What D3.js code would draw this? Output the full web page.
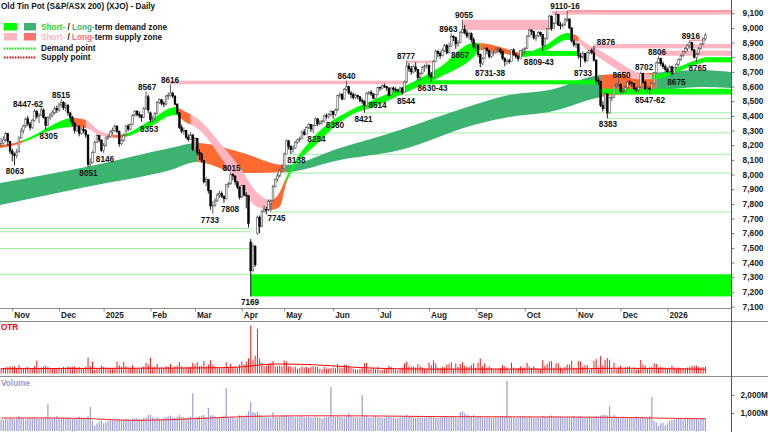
<!DOCTYPE html>
<html><head><meta charset="utf-8">
<script src="https://cdn.jsdelivr.net/npm/d3@7"></script>
<style>
body{margin:0;background:#fff}
svg{display:block;font-family:"Liberation Sans",Arial,sans-serif}
</style>
</head><body>
<svg id="c" width="768" height="432"></svg>
<script>
// ---- Daily candles, Oct 2024 - Jan 2026 ----
const opens = [
8200,8211,8236,8279,8226,8160,8140,8130,8155,8250,
8300,8330,8380,8345,8320,8370,8430,8395,8405,8440,
8390,8335,8390,8405,8420,8450,8440,8475,8490,8455,
8470,8420,8390,8350,8300,8330,8280,8310,8300,8270,
8070,8080,8150,8220,8265,8235,8165,8200,8250,8260,
8290,8300,8330,8295,8210,8230,8270,8330,8310,8340,
8405,8430,8410,8405,8390,8450,8530,8420,8375,8380,
8415,8490,8510,8485,8480,8535,8540,8555,8535,8480,
8420,8320,8295,8300,8255,8240,8270,8170,8245,8150,
8140,8095,7950,7965,7890,7785,7790,7820,7860,7870,
7850,7835,7930,7937,7999,7990,7950,7915,7845,7925,
7860,7855,7540,7343,7510,7600,7709,7646,7748,7762,
7758,7800,7820,7920,7968,7990,8030,8040,8140,8230,
8190,8170,8180,8220,8235,8245,8290,8275,8320,8340,
8310,8335,8380,8345,8360,8365,8400,8395,8410,8430,
8410,8440,8540,8545,8515,8580,8600,8555,8545,8525,
8540,8530,8505,8500,8470,8555,8560,8550,8520,8545,
8595,8590,8605,8600,8590,8540,8590,8580,8575,8570,
8590,8560,8630,8740,8720,8700,8735,8715,8660,8690,
8730,8740,8745,8680,8665,8770,8840,8825,8810,8845,
8880,8830,8875,8940,8935,8890,8900,8970,8990,8965,
8945,8960,8920,8870,8880,8820,8760,8790,8860,8845,
8805,8830,8835,8850,8855,8840,8790,8770,8775,8770,
8850,8820,8805,8790,8845,8850,8860,8945,8985,8975,
8930,8945,8970,8955,8880,8925,8995,9080,8995,9030,
9090,9020,9015,9020,9055,9060,9000,8910,8885,8890,
8810,8800,8825,8775,8830,8845,8830,8780,8640,8635,
8470,8450,8550,8420,8525,8525,8605,8615,8615,8565,
8570,8595,8630,8625,8620,8585,8580,8595,8690,8630,
8585,8590,8580,8620,8695,8760,8790,8755,8735,8715,
8700,8735,8690,8730,8750,8785,8810,8840,8860,8880,
8900,8850,8800,8820,8860,8890,8925];
const highs = [
8250,8262,8290,8283,8230,8175,8150,8175,8260,8320,
8340,8390,8400,8360,8380,8447,8440,8420,8462,8450,
8395,8400,8420,8440,8465,8470,8490,8515,8500,8490,
8480,8425,8400,8360,8345,8335,8320,8330,8310,8275,
8110,8160,8230,8275,8270,8240,8215,8260,8275,8300,
8320,8340,8335,8300,8245,8280,8340,8345,8350,8410,
8440,8440,8430,8410,8460,8567,8545,8430,8400,8425,
8500,8520,8515,8500,8545,8560,8616,8565,8540,8485,
8425,8340,8320,8305,8275,8290,8275,8255,8250,8170,
8150,8100,7985,7970,7895,7820,7840,7875,7890,7885,
7860,7935,7950,8015,8010,7995,7955,7920,7930,7930,
7880,7860,7560,7530,7520,7720,7720,7760,7790,7780,
7830,7830,7930,7975,8010,8040,8070,8150,8240,8235,
8200,8200,8230,8245,8260,8300,8310,8330,8350,8345,
8345,8390,8385,8370,8375,8410,8415,8420,8440,8435,
8450,8545,8560,8555,8590,8640,8605,8570,8560,8550,
8545,8535,8520,8505,8560,8570,8575,8555,8550,8600,
8600,8615,8620,8605,8595,8595,8600,8595,8585,8600,
8595,8640,8777,8760,8740,8750,8765,8720,8700,8740,
8750,8760,8750,8700,8780,8850,8850,8840,8860,8890,
8890,8900,8963,8950,8940,8920,8980,9055,9020,8985,
8975,8970,8935,8900,8890,8825,8800,8870,8870,8850,
8840,8845,8865,8870,8860,8845,8800,8790,8790,8855,
8860,8830,8815,8850,8860,8870,8950,8995,8990,8980,
8955,8980,8975,8960,8935,9000,9090,9085,9040,9110,
9095,9040,9035,9070,9116,9065,9005,8920,8905,8895,
8830,8840,8830,8840,8850,8860,8876,8785,8660,8640,
8500,8560,8555,8530,8540,8610,8625,8650,8620,8590,
8610,8640,8645,8635,8625,8595,8600,8702,8695,8640,
8600,8600,8630,8700,8770,8806,8795,8770,8750,8730,
8745,8740,8735,8760,8790,8820,8845,8870,8890,8916,
8905,8855,8830,8870,8900,8935,8965];
const lows = [
8190,8205,8225,8200,8140,8090,8063,8110,8150,8245,
8280,8320,8330,8300,8310,8360,8380,8350,8400,8380,
8305,8330,8370,8390,8410,8420,8430,8460,8440,8430,
8400,8360,8330,8280,8290,8260,8270,8280,8250,8051,
8055,8075,8145,8215,8220,8155,8146,8190,8235,8250,
8270,8290,8280,8190,8200,8225,8265,8295,8300,8335,
8395,8395,8385,8360,8385,8440,8420,8353,8360,8370,
8410,8480,8470,8460,8470,8510,8530,8520,8470,8410,
8310,8280,8270,8240,8225,8235,8160,8165,8130,8100,
8080,7940,7920,7870,7760,7733,7780,7815,7840,7840,
7808,7830,7910,7930,7960,7930,7900,7830,7840,7850,
7770,7640,7169,7340,7370,7590,7600,7640,7740,7730,
7750,7745,7815,7910,7950,7980,8010,8035,8135,8170,
8138,8150,8175,8210,8220,8240,8265,8270,8310,8290,
8284,8330,8330,8335,8340,8355,8380,8380,8395,8380,
8400,8435,8520,8505,8510,8570,8545,8520,8510,8515,
8515,8490,8480,8421,8465,8540,8535,8514,8515,8540,
8570,8580,8590,8570,8530,8535,8565,8560,8555,8560,
8544,8555,8625,8700,8680,8690,8700,8640,8643,8680,
8700,8720,8660,8630,8660,8765,8800,8790,8805,8835,
8820,8825,8870,8910,8857,8870,8895,8960,8955,8930,
8920,8900,8850,8850,8800,8731,8745,8785,8820,8790,
8795,8810,8820,8830,8820,8780,8738,8750,8755,8765,
8810,8790,8770,8785,8809,8820,8855,8935,8950,8920,
8910,8935,8940,8843,8870,8920,8990,8980,8990,9025,
9010,8990,9000,9015,9040,8990,8900,8870,8860,8790,
8733,8790,8760,8770,8820,8820,8770,8620,8610,8460,
8430,8445,8383,8415,8500,8520,8590,8600,8555,8550,
8560,8585,8610,8600,8575,8562,8565,8590,8620,8575,
8560,8547,8575,8615,8690,8755,8740,8720,8700,8690,
8695,8675,8685,8720,8740,8775,8800,8825,8840,8860,
8840,8790,8765,8815,8850,8880,8915];
const closes = [
8211,8236,8279,8226,8160,8140,8130,8155,8250,8295,
8330,8380,8345,8320,8370,8430,8395,8405,8440,8390,
8335,8390,8405,8420,8450,8440,8475,8490,8455,8470,
8420,8390,8350,8300,8330,8280,8310,8300,8270,8070,
8080,8150,8220,8265,8235,8165,8200,8250,8260,8290,
8300,8330,8295,8210,8230,8270,8330,8310,8340,8405,
8430,8410,8405,8390,8450,8530,8440,8375,8380,8415,
8490,8510,8485,8480,8535,8540,8555,8535,8480,8420,
8320,8295,8300,8255,8240,8270,8170,8245,8150,8140,
8095,7950,7965,7890,7785,7790,7820,7860,7870,7850,
7835,7930,7937,7999,7990,7950,7915,7845,7925,7860,
7855,7667,7343,7510,7385,7709,7646,7748,7762,7758,
7819,7820,7920,7968,7990,8030,8040,8140,8230,8190,
8170,8180,8220,8235,8245,8290,8275,8320,8340,8310,
8335,8380,8345,8360,8365,8400,8395,8410,8430,8410,
8440,8540,8545,8515,8580,8600,8555,8545,8525,8540,
8530,8505,8500,8470,8555,8560,8550,8520,8545,8595,
8590,8605,8600,8590,8540,8590,8580,8575,8570,8590,
8560,8630,8740,8720,8700,8735,8715,8660,8690,8730,
8740,8745,8680,8665,8770,8840,8825,8810,8845,8880,
8830,8875,8940,8935,8890,8900,8970,8990,8965,8945,
8960,8920,8870,8880,8820,8760,8790,8860,8845,8805,
8830,8835,8850,8855,8840,8790,8770,8775,8770,8850,
8820,8805,8790,8845,8850,8860,8945,8985,8975,8930,
8945,8970,8955,8880,8925,8995,9080,8995,9030,9090,
9020,9015,9020,9055,9060,9000,8910,8885,8890,8810,
8800,8825,8775,8830,8845,8830,8780,8640,8635,8470,
8450,8550,8420,8525,8525,8605,8615,8615,8565,8570,
8595,8630,8625,8620,8585,8580,8595,8690,8630,8585,
8590,8580,8620,8695,8760,8790,8755,8735,8715,8700,
8735,8690,8730,8750,8785,8810,8840,8860,8880,8900,
8850,8800,8820,8860,8890,8925,8950];

// OTR (points) and volume (millions) per session
const otr = [
40,45,50,55,60,55,60,45,70,50, 45,50,55,40,45,60,108,45,50,60,
65,55,40,45,40,45,50,45,55,50, 60,55,55,60,45,55,40,45,55,133,
60,100,30,45,40,65,55,50,40,45, 40,45,100,70,55,95,60,50,45,70,
45,45,40,50,60,90,75,133,50,55, 80,45,50,45,60,55,80,45,60,65,
95,60,50,55,50,55,90,75,95,60, 65,105,60,75,110,70,60,55,45,45,
55,95,45,80,55,60,50,75,100,75, 100,125,400,115,150,375,125,90,60,65,
75,85,105,60,60,65,60,110,100,60, 60,50,55,40,45,60,50,55,45,55,
60,55,55,40,35,55,40,40,45,50, 45,80,50,45,75,70,60,45,40,35,
30,40,50,85,90,35,40,45,35,55, 30,30,35,40,65,55,40,35,30,40,
50,85,100,60,55,60,50,80,60,50, 40,35,90,70,110,85,50,45,55,50,
75,80,95,40,85,55,80,95,65,55, 55,70,85,50,90,125,60,85,50,60,
45,35,40,40,45,70,60,50,35,90, 50,40,45,60,50,50,90,60,45,60,
45,40,35,110,65,80,100,105,50,85, 85,50,35,55,76,75,105,50,45,105,
100,55,70,70,30,40,106,120,50,145, 70,115,130,115,40,90,35,50,65,40,
50,55,60,35,50,33,35,112,75,65, 40,53,55,85,80,51,55,50,50,40,
50,65,50,40,50,45,45,45,50,56, 65,65,65,55,50,55,60];
const volume = [
640,610,700,650,720,690,660,700,820,760, 700,650,680,720,690,760,700,680,720,740,
780,1500,720,690,760,820,740,700,760,720, 780,700,690,720,760,800,730,690,760,820,
1330,560,300,420,520,560,430,480,560,600, 610,640,620,660,600,640,680,660,560,700,
690,720,660,640,720,760,880,900,760,720, 760,700,680,740,780,820,860,760,740,800,
880,780,760,720,760,800,2100,760,800,820, 860,900,780,1280,860,880,820,760,780,800,
860,2390,740,760,800,700,720,880,860,780, 900,1100,1610,1050,1000,1080,900,820,780,760,
760,720,1050,800,760,820,840,860,880,800, 820,780,760,740,800,820,760,780,800,760,
760,800,780,740,700,760,780,800,2440,800, 780,820,800,760,760,820,1000,820,780,760,
780,760,2000,820,840,760,740,800,860,780, 760,740,720,780,820,760,740,700,720,760,
800,820,900,820,780,760,760,800,760,740, 760,800,820,780,800,760,740,760,780,800,
780,760,800,820,760,740,1050,1100,980,900, 860,820,880,760,780,800,760,740,780,760,
760,740,780,760,800,820,780,2780,800,760, 760,740,760,780,820,800,780,820,760,760,
740,760,760,820,800,780,840,860,780,800, 820,780,760,760,800,780,800,840,780,800,
820,780,760,740,760,780,800,820,780,860, 880,900,860,1390,760,900,780,760,740,800,
760,780,760,740,760,800,740,780,800,760, 760,820,1890,560,480,300,420,440,330,420,
560,620,640,660,700,680,640,660,700,680, 660,700,680,640,660,680,700];

// moving-average knots for the lower panels
const otrMaIdx = [0,30,60,90,105,112,118,128,140,150,165,180,200,220,240,260,275,290,316];
const otrMaVal = [40,42,44,46,50,62,78,80,74,62,45,38,36,38,36,38,45,42,36];
const volMaIdx = [0,20,40,50,60,75,90,105,115,140,170,190,220,250,280,300,316];
const volMaVal = [720,730,700,620,580,620,700,780,830,850,840,800,790,780,760,700,680];

// axis ticks
const monthIdx = [5,26,46,67,87,108,127,149,169,192,213,235,258,278,299];
const monthLbl = ["Nov","Dec","2025","Feb","Mar","Apr","May","Jun","Jul","Aug","Sep","Oct","Nov","Dec","2026"];
const priceTicks = [7100,7200,7300,7400,7500,7600,7700,7800,7900,8000,8100,8200,8300,8400,8500,8600,8700,8800,8900,9000,9100];
const volTicks = [1000,2000];

// long-term band (knots)
const ltIdx = [-0.5,38,76,88,107,127,152,179,212,228,246,269,291,314,327.5];
const ltTop = [7942,8051,8181,8215,8154,8065,8181,8304,8474,8542,8576,8679,8692,8713,8699];
const ltBot = [7792,7915,8031,8085,8010,8015,8099,8167,8338,8392,8426,8529,8563,8597,8590];
const ltSegFrom = [-0.5,88,127.5,269,294];
const ltSegTo   = [88,127.5,269,294,327.5];
const ltSegKind = ["ld","ls","ld","ls","ld"];

// short-term band (knots)
const stIdx = [-0.5,6,14,22,32,38,44,52.5,55,67,78,82.5,89,98,107,115,121,125,128,142,157,167,182,197,212,215,224,234,244,254,258,262,267,276,285,294,302,310,316];
const stTop = [8201,8215,8262,8330,8385,8372,8300,8270,8275,8370,8460,8430,8372,8220,8051,7874,7826,7880,7983,8283,8440,8508,8610,8733,8897,8897,8870,8829,8880,8965,8950,8900,8860,8780,8700,8680,8720,8770,8800];
const stBot = [8181,8200,8245,8300,8324,8317,8270,8250,8255,8330,8406,8360,8304,8130,7915,7779,7758,7780,7942,8215,8406,8460,8563,8665,8801,8849,8830,8801,8840,8917,8910,8860,8810,8720,8650,8650,8690,8740,8767];
const stSegFrom = [-0.5,10,32,38,50,55,79,85,121,128,215,233,256,259,292];
const stSegTo   = [10,32,38,50,55,79,85,121,128,215,233,256,259,292,316.5];
const stSegKind = ["ls","sd","ls","ss","ls","sd","ls","ss","ls","sd","ls","sd","ls","ss","sd"];

// horizontal demand / supply zones
const dzLo = [7169,8615,8809,8547,8765];
const dzHi = [7320,8643,8843,8585,8800];
const dzFrom = [112,186,233,269,316];
const dzTo = [327.5,268,259,327.5,327.5];
const szLo = [8616,8760,8985,9090,8860,8810];
const szHi = [8640,8777,9055,9116,8890,8845];
const szFrom = [76,182,207,247,266,295];
const szTo = [182,194,247,327.5,327.5,327.5];

// demand / supply point levels
const dpVal = [7632,7610,7496,7320,7745,8010,8138,8284,8421,8544,8383];
const dpFrom = [-0.5,-0.5,-0.5,-0.5,121,126,130,140,163,180,272];
const dpTo = [112,112,112,112,327.5,327.5,327.5,327.5,327.5,327.5,327.5];
const spVal = [9116,8916];
const spFrom = [254,309];
const spTo = [327.5,316];

// price annotations
const noteText = ["8063","8447-62","8305","8515","8051","8146","8567","8353","8616","7733","8015","7808","7169","7745","8138","8284","8380","8640","8421","8514","8544","8777","8630-43","8963","8857","9055","8731-38","8809-43","9110-16","8876","8733","8383","8650","8702","8547-62","8806","8675","8916","8765"];
const noteIdx = [6.2,12.1,21.3,26.9,39.2,46.6,65.5,66.4,75.8,93.7,103.4,102.7,111.7,123.6,132.5,141.5,149.8,155,162.6,168.9,181.7,181.7,193.6,200.7,205.9,207.7,219.4,241.3,253,271.4,261.1,272.3,278.4,288.5,291.2,294.3,303,309.5,312.5];
const noteVal = [8063,8447,8305,8515,8051,8146,8567,8353,8616,7733,8015,7808,7169,7745,8138,8284,8380,8640,8421,8514,8544,8777,8630,8963,8857,9055,8731,8809,9116,8876,8733,8383,8650,8702,8547,8806,8675,8916,8765];
const noteLow = [1,0,1,0,1,1,0,1,0,1,0,1,1,1,1,1,1,0,1,1,1,0,1,0,1,0,1,1,0,0,1,1,0,0,1,0,1,0,1];

const colors = {sd:"#00ff00", ld:"#3cb371", ss:"#ffb6c1", ls:"#ff6a33"};

const svg = d3.select("#c");
const axisX = 731.5;
const x = d3.scaleLinear().domain([-0.5, 327.5]).range([0, 731]);
const y = d3.scaleLinear().domain([7090, 9190]).range([308, 0]);
const yO = d3.scaleLinear().domain([0, 430]).range([373.5, 322]);
const yV = d3.scaleLinear().domain([0, 2000]).range([431, 395]);

svg.append("rect").attr("width",768).attr("height",432).attr("fill","#fff");
const defs = svg.append("defs");
defs.append("clipPath").attr("id","pc").append("rect").attr("x",0).attr("y",0).attr("width",731).attr("height",308);

const price = svg.append("g").attr("clip-path","url(#pc)");

// level lines sit under the bands
dpVal.forEach((v,k)=>{
  price.append("line").attr("x1",x(dpFrom[k])).attr("x2",x(dpTo[k]))
    .attr("y1",y(v)).attr("y2",y(v)).attr("stroke","#9ef09e").attr("stroke-width",1);
});

// bands drawn piecewise by state
function drawBand(idx, top, bot, from, to, kind, tag){
  const pts = idx.map((d,k)=>({i:d,t:top[k],b:bot[k]}));
  const area = d3.area().x(d=>x(d.i)).y0(d=>y(d.b)).y1(d=>y(d.t)).curve(d3.curveMonotoneX);
  from.forEach((f,k)=>{
    const id = tag+k;
    defs.append("clipPath").attr("id",id).append("rect")
      .attr("x",x(f)).attr("y",0).attr("width",Math.max(0,x(to[k])-x(f))+0.3).attr("height",308);
    price.append("path").datum(pts).attr("d",area)
      .attr("fill",colors[kind[k]]).attr("clip-path","url(#"+id+")");
  });
}
drawBand(ltIdx, ltTop, ltBot, ltSegFrom, ltSegTo, ltSegKind, "lt");
drawBand(stIdx, stTop, stBot, stSegFrom, stSegTo, stSegKind, "st");

dzLo.forEach((lo,k)=>{
  price.append("rect").attr("x",x(dzFrom[k])).attr("width",x(dzTo[k])-x(dzFrom[k]))
    .attr("y",y(dzHi[k])).attr("height",y(lo)-y(dzHi[k])).attr("fill",colors.sd);
});
szLo.forEach((lo,k)=>{
  price.append("rect").attr("x",x(szFrom[k])).attr("width",x(szTo[k])-x(szFrom[k]))
    .attr("y",y(szHi[k])).attr("height",y(lo)-y(szHi[k])).attr("fill",colors.ss);
});
spVal.forEach((v,k)=>{
  price.append("line").attr("x1",x(spFrom[k])).attr("x2",x(spTo[k]))
    .attr("y1",y(v)).attr("y2",y(v)).attr("stroke","#ff6b6b").attr("stroke-width",1);
});

// candles
const candles = closes.map((c,i)=>({i, o:opens[i], h:highs[i], l:lows[i], c}));
const cg = price.append("g");
cg.selectAll("line").data(candles).join("line")
  .attr("x1",d=>x(d.i)).attr("x2",d=>x(d.i))
  .attr("y1",d=>y(d.h)).attr("y2",d=>y(d.l))
  .attr("stroke",d=>d.c>=d.o?"#505050":"#000").attr("stroke-width",0.9);
cg.selectAll("rect").data(candles).join("rect")
  .attr("x",d=>x(d.i)-0.85).attr("width",1.7)
  .attr("y",d=>y(Math.max(d.o,d.c)))
  .attr("height",d=>Math.max(0.8,Math.abs(y(d.o)-y(d.c))))
  .attr("fill",d=>d.c>=d.o?"#fff":"#000")
  .attr("stroke",d=>d.c>=d.o?"#505050":"#000").attr("stroke-width",0.6);

// annotations
svg.append("g").selectAll("text").data(noteText).join("text")
  .attr("x",(t,k)=>x(noteIdx[k]))
  .attr("y",(t,k)=>y(noteVal[k]) + (noteLow[k] ? 9 : -1.5))
  .attr("text-anchor","middle").attr("font-size",8.2).attr("font-weight","bold")
  .attr("fill","#111").text(t=>t);

// frame lines
svg.append("line").attr("x1",0).attr("x2",axisX).attr("y1",308.5).attr("y2",308.5).attr("stroke","#8c8c8c");
svg.append("line").attr("x1",0).attr("x2",768).attr("y1",321.5).attr("y2",321.5).attr("stroke","#8c8c8c");
svg.append("line").attr("x1",0).attr("x2",768).attr("y1",376.5).attr("y2",376.5).attr("stroke","#8c8c8c");

// month axis
const xa = svg.append("g").attr("transform","translate(0,308.5)")
  .call(d3.axisBottom(x).tickValues(monthIdx).tickFormat((d,k)=>monthLbl[k]).tickSize(3).tickPadding(1));
xa.select(".domain").remove();
xa.selectAll("line").attr("stroke","#8c8c8c");
xa.selectAll("text").attr("text-anchor","start").attr("x",1.5).attr("dy","0.71em")
  .attr("font-size",8.2).attr("font-weight","bold").attr("fill","#222")
  .attr("font-family","Liberation Sans, Arial, sans-serif");

// price axis
const ya = svg.append("g").attr("transform","translate("+axisX+",0)")
  .call(d3.axisRight(y).tickValues(priceTicks).tickFormat(d3.format(",")).tickSize(3).tickPadding(8));
ya.select(".domain").remove();
ya.selectAll("line").attr("stroke","#777");
ya.selectAll("text").attr("font-size",8.4).attr("font-weight","bold").attr("fill","#222")
  .attr("font-family","Liberation Sans, Arial, sans-serif");

// OTR panel
svg.append("g").selectAll("rect").data(otr).join("rect")
  .attr("x",(v,i)=>x(i)-0.5).attr("width",1)
  .attr("y",v=>yO(v)).attr("height",v=>yO(0)-yO(v)).attr("fill","#ff1a1a");
svg.append("path").datum(otrMaIdx.map((d,k)=>[d,otrMaVal[k]]))
  .attr("d",d3.line().x(d=>x(d[0])).y(d=>yO(d[1])).curve(d3.curveBasis))
  .attr("fill","none").attr("stroke","#ff0000").attr("stroke-width",1);
svg.append("text").attr("x",1).attr("y",330).attr("font-size",8.2).attr("font-weight","bold")
  .attr("fill","#ff0000").text("OTR");

// volume panel
svg.append("g").selectAll("rect").data(volume).join("rect")
  .attr("x",(v,i)=>x(i)-0.6).attr("width",1.2)
  .attr("y",v=>yV(v)).attr("height",v=>yV(0)-yV(v)).attr("fill","#9c9cd8");
svg.append("path").datum(volMaIdx.map((d,k)=>[d,volMaVal[k]]))
  .attr("d",d3.line().x(d=>x(d[0])).y(d=>yV(d[1])).curve(d3.curveBasis))
  .attr("fill","none").attr("stroke","#ff2020").attr("stroke-width",1);
svg.append("text").attr("x",1).attr("y",386).attr("font-size",8.2).attr("font-weight","bold")
  .attr("fill","#9a9ad0").text("Volume");
const va = svg.append("g").attr("transform","translate("+axisX+",0)")
  .call(d3.axisRight(yV).tickValues(volTicks).tickFormat(d=>d3.format(",")(d)+"M").tickSize(3).tickPadding(6));
va.select(".domain").remove();
va.selectAll("line").attr("stroke","#777");
va.selectAll("text").attr("font-size",8.2).attr("font-weight","bold").attr("fill","#222")
  .attr("font-family","Liberation Sans, Arial, sans-serif");

// vertical axis line over everything
svg.append("line").attr("x1",axisX).attr("x2",axisX).attr("y1",0).attr("y2",432).attr("stroke","#555");

// title and legend
svg.append("text").attr("x",1).attr("y",9).attr("font-size",8.2).attr("font-weight","bold")
  .attr("fill","#111").text("Old Tin Pot (S&P/ASX 200) (XJO) - Daily");
const lg = svg.append("g").attr("font-size",8.2).attr("font-weight","bold");
lg.append("rect").attr("x",4).attr("y",23).attr("width",13).attr("height",7.5).attr("fill",colors.sd);
lg.append("rect").attr("x",24).attr("y",23).attr("width",12).attr("height",7.5).attr("fill",colors.ld);
lg.append("rect").attr("x",4).attr("y",33).attr("width",13).attr("height",7.5).attr("fill",colors.ss);
lg.append("rect").attr("x",24).attr("y",33).attr("width",12).attr("height",7.5).attr("fill","#ff7070");
const t1 = lg.append("text").attr("x",41).attr("y",29.5);
t1.append("tspan").attr("fill","#22dd22").text("Short-");
t1.append("tspan").attr("fill","#111").text(" / ");
t1.append("tspan").attr("fill",colors.ld).text("Long-");
t1.append("tspan").attr("fill","#111").text("term demand zone");
const t2 = lg.append("text").attr("x",41).attr("y",39.5);
t2.append("tspan").attr("fill",colors.ss).text("Short-");
t2.append("tspan").attr("fill","#111").text(" / ");
t2.append("tspan").attr("fill","#ff7070").text("Long-");
t2.append("tspan").attr("fill","#111").text("term supply zone");
lg.append("line").attr("x1",4).attr("x2",36).attr("y1",48.5).attr("y2",48.5)
  .attr("stroke","#00ee00").attr("stroke-width",2).attr("stroke-dasharray","1.5,1.2");
lg.append("text").attr("x",41).attr("y",51).attr("fill","#111").text("Demand point");
lg.append("line").attr("x1",4).attr("x2",36).attr("y1",57.5).attr("y2",57.5)
  .attr("stroke","#ff0000").attr("stroke-width",2).attr("stroke-dasharray","1.5,1.2");
lg.append("text").attr("x",41).attr("y",60).attr("fill","#111").text("Supply point");
</script>
</body></html>
